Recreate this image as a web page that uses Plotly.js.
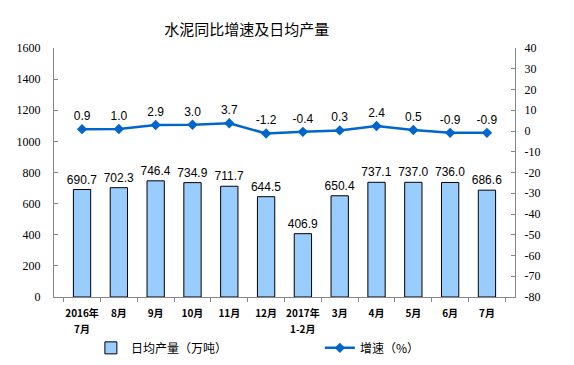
<!DOCTYPE html>
<html><head><meta charset="utf-8">
<script src="https://cdn.plot.ly/plotly-3.0.1.min.js"></script>
<style>html,body{margin:0;padding:0;background:#fff}#c{width:574px;height:365px}</style>
</head><body><div id="c"></div>
<script>
const categories = ["2016年7月","8月","9月","10月","11月","12月","2017年1-2月","3月","4月","5月","6月","7月"];
const tickLine1 = ["2016年","8月","9月","10月","11月","12月","2017年","3月","4月","5月","6月","7月"];
const tickLine2 = ["7月","","","","","","1-2月","","","","",""];
const output = [690.7,702.3,746.4,734.9,711.7,644.5,406.9,650.4,737.1,737.0,736.0,686.6];
const growth = [0.9,1.0,2.9,3.0,3.7,-1.2,-0.4,0.3,2.4,0.5,-0.9,-0.9];
const leftTicks = [0,200,400,600,800,1000,1200,1400,1600];
const rightTicks = [-80,-70,-60,-50,-40,-30,-20,-10,0,10,20,30,40];

const traces = [
  {type:'bar', x:categories, y:output, name:'日均产量（万吨）',
   marker:{color:'#99CCFF', line:{color:'#000', width:1}},
   text:output.map(v=>v.toFixed(1)), textposition:'outside', cliponaxis:false, constraintext:'none',
   textfont:{family:'Liberation Sans, Arial', size:12, color:'#000'}, hoverinfo:'skip'},
  {type:'scatter', mode:'lines+markers+text', x:categories, y:growth, yaxis:'y2', name:'增速（%）',
   line:{color:'#0066CC', width:2.5}, marker:{symbol:'diamond', size:8, color:'#0066CC'},
   text:growth.map(v=>v.toFixed(1)), textposition:'top center', cliponaxis:false,
   textfont:{family:'Liberation Sans, Arial', size:12, color:'#000'}, hoverinfo:'skip'}
];
const tickFont = {family:'Noto Sans CJK SC', size:10, color:'#000', weight:'bold'};
const annotations = categories.map((c,i)=>({x:c, xref:'x', y:0, yref:'paper', yshift:-31,
  yanchor:'middle', xanchor:'center', showarrow:false, text:tickLine2[i], font:tickFont}))
  .filter(a=>a.text);
const layout = {
  width:574, height:365,
  margin:{l:54, r:59, t:48, b:68},
  paper_bgcolor:'#fff', plot_bgcolor:'#fff',
  title:{text:'水泥同比增速及日均产量', x:0.43, xanchor:'center', y:0.918, yanchor:'middle',
    font:{family:'Noto Sans CJK SC', size:15, color:'#000'}},
  bargap:0.53,
  showlegend:true,
  legend:{orientation:'h', x:0.08, xanchor:'left', yref:'container', y:0.047, yanchor:'middle',
    entrywidth:184, entrywidthmode:'pixels',
    font:{family:'Noto Sans CJK SC', size:12, color:'#000'}, traceorder:'normal'},
  annotations:annotations,
  xaxis:{tickmode:'array', tickvals:categories, ticktext:tickLine1, tickangle:0, automargin:false,
    showline:true, linecolor:'#868686', linewidth:1, ticks:'outside', ticklen:4, tickcolor:'#868686',
    tickson:'boundaries', showgrid:false, zeroline:false, ticklabelstandoff:7,
    tickfont:tickFont, fixedrange:true},
  yaxis:{range:[0,1600], tickvals:leftTicks, showline:true, linecolor:'#868686', linewidth:1,
    ticks:'inside', ticklen:4, tickcolor:'#868686', showgrid:false, zeroline:false, automargin:false,
    ticklabelstandoff:10,
    tickfont:{family:'Times New Roman, Liberation Serif, DejaVu Serif, serif', size:12, color:'#000'}},
  yaxis2:{range:[-80,40], tickmode:'array', tickvals:rightTicks, ticktext:rightTicks.map(String),
    overlaying:'y', side:'right', automargin:false,
    showline:true, linecolor:'#868686', linewidth:1, ticks:'inside', ticklen:4, tickcolor:'#868686',
    showgrid:false, zeroline:false, ticklabelstandoff:6,
    tickfont:{family:'Times New Roman, Liberation Serif, DejaVu Serif, serif', size:12, color:'#000'}}
};
Plotly.newPlot('c', traces, layout, {displayModeBar:false, staticPlot:true});
</script></body></html>
